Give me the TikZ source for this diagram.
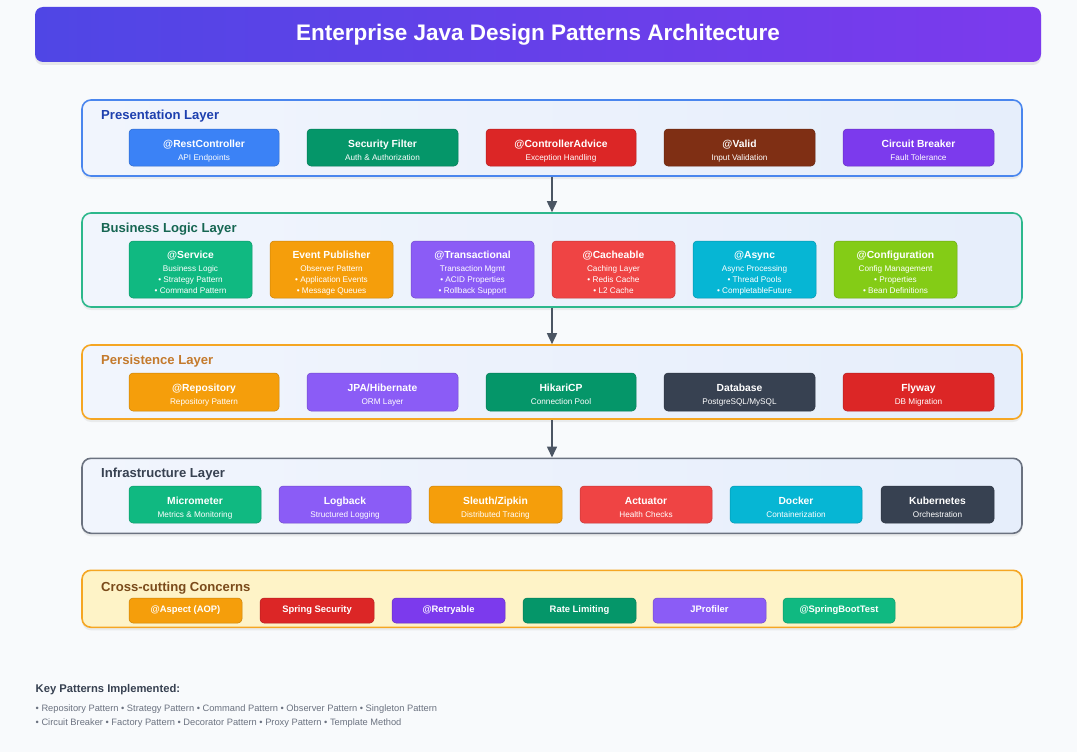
\documentclass[tikz,border=0pt]{standalone}
\usepackage{fontspec}
\setmainfont{Liberation Sans}
\usetikzlibrary{shadows,arrows.meta}
\definecolor{bg}{HTML}{F8FAFC}
\definecolor{tL}{HTML}{4F46E5}
\definecolor{tR}{HTML}{7C3AED}
\definecolor{layL}{HTML}{F1F5FD}
\definecolor{layR}{HTML}{E6EEFB}
\definecolor{cBlue}{HTML}{3B82F6}
\definecolor{cGreen}{HTML}{059669}
\definecolor{cRed}{HTML}{DC2626}
\definecolor{cBrown}{HTML}{7F2F14}
\definecolor{cPurple}{HTML}{7C3AED}
\definecolor{cEmerald}{HTML}{10B981}
\definecolor{cAmber}{HTML}{F59E0B}
\definecolor{cViolet}{HTML}{8B5CF6}
\definecolor{cRedL}{HTML}{EF4444}
\definecolor{cCyan}{HTML}{06B6D4}
\definecolor{cLime}{HTML}{84CC16}
\definecolor{cSlate}{HTML}{374151}
\definecolor{bPres}{HTML}{4A86EE}
\definecolor{bBus}{HTML}{2DB88C}
\definecolor{bPers}{HTML}{F5A623}
\definecolor{bInf}{HTML}{6B7280}
\definecolor{crossFill}{HTML}{FEF3C7}
\definecolor{lPres}{HTML}{1E40AF}
\definecolor{lBus}{HTML}{166652}
\definecolor{lPers}{HTML}{C47A2C}
\definecolor{lInf}{HTML}{374151}
\definecolor{lCross}{HTML}{7A4A1A}
\definecolor{arrowC}{HTML}{4B5563}
\definecolor{keyHead}{HTML}{374151}
\definecolor{keyText}{HTML}{6B7280}
\tikzset{
  layerbox/.style={rounded corners=9pt, line width=1.6pt, draw=#1, left color=layL, right color=layR,
    minimum width=940pt, inner sep=0pt,
    drop shadow={opacity=0.12,shadow xshift=0pt,shadow yshift=-3pt}},
  crossbox/.style={rounded corners=9pt, line width=1.6pt, draw=#1, fill=crossFill,
    minimum width=940pt, inner sep=0pt,
    drop shadow={opacity=0.12,shadow xshift=0pt,shadow yshift=-3pt}},
  layerlabel/.style={anchor=base west, inner sep=0pt, text=#1, font=\fontsize{13.1}{15}\selectfont\bfseries},
  comp/.style={rounded corners=4pt, fill=#1, draw=#1!82!black, line width=0.5pt, inner sep=0pt},
  ttl/.style={anchor=base, inner sep=0pt, text=white, font=\fontsize{10.3}{12}\selectfont\bfseries},
  sbt/.style={anchor=base, inner sep=0pt, text=white, font=\fontsize{8.2}{10}\selectfont},
  onetxt/.style={anchor=base, inner sep=0pt, text=white, font=\fontsize{9.4}{11}\selectfont\bfseries},
  flow/.style={line width=1.6pt, draw=arrowC, -{Triangle[length=11pt,width=10pt]}},
}
% box: name color x1 x2 y1 y2
\newcommand\cbox[6]{\node[comp=#2, minimum width={#4-#3}, minimum height={#6-#5}] (#1) at ({(#3+#4)/2},{(#5+#6)/2}) {};}
% two-line component
\newcommand\twoc[8]{\cbox{#1}{#2}{#3}{#4}{#5}{#6}
  \node[ttl] (#1-t) at ([yshift=-19pt]#1.north) {#7};
  \node[sbt] (#1-s) at ([yshift=-32pt]#1.north) {#8};}
% four-line component: name color x1 title l2 l3 l4
\newcommand\fourc[7]{\cbox{#1}{#2}{#3}{#3+123}{241}{298}
  \node[ttl] (#1-t) at ([yshift=-18pt]#1.north) {#4};
  \node[sbt] (#1-a) at ([yshift=-31pt]#1.north) {#5};
  \node[sbt] (#1-b) at ([yshift=-41.8pt]#1.north) {#6};
  \node[sbt] (#1-c) at ([yshift=-52.3pt]#1.north) {#7};}
% one-line component: name color x1 x2 text
\newcommand\onec[5]{\cbox{#1}{#2}{#3}{#4}{598}{623}
  \node[onetxt] (#1-t) at ([yshift=-14.5pt]#1.north) {#5};}
\begin{document}
\begin{tikzpicture}[x=1pt,y=-1pt]
\useasboundingbox[fill=bg] (0,0) rectangle (1077,752);

% title
\node[rounded corners=8pt, left color=tL, right color=tR, minimum width=1006pt, minimum height=55pt,
  text=white, font=\fontsize{22.5}{26}\selectfont\bfseries,
  drop shadow={opacity=0.15,shadow xshift=0pt,shadow yshift=-3pt}] (title) at (538,34.5)
  {Enterprise Java Design Patterns Architecture};

% layers
\node[layerbox=bPres, minimum height=76pt] (pres) at (552,138) {};
\node[layerbox=bBus, minimum height=94pt] (bus) at (552,260) {};
\node[layerbox=bPers, minimum height=74pt] (pers) at (552,382) {};
\node[layerbox=bInf, minimum height=75pt] (inf) at (552,495.8) {};
\node[crossbox=bPers, minimum height=57pt] (cross) at (552,598.8) {};

\node[layerlabel=lPres] (presL) at (101,120) {Presentation Layer};
\node[layerlabel=lBus] (busL) at (101,232) {Business Logic Layer};
\node[layerlabel=lPers] (persL) at (101,364) {Persistence Layer};
\node[layerlabel=lInf] (infL) at (101,477) {Infrastructure Layer};
\node[layerlabel=lCross] (crossL) at (101,591) {Cross-cutting Concerns};

% arrows
\draw[flow] (pres.south) -- (bus.north);
\draw[flow] (bus.south) -- (pers.north);
\draw[flow] (pers.south) -- (inf.north);

% presentation
\twoc{rest}{cBlue}{129}{279}{129}{166}{@RestController}{API Endpoints}
\twoc{sec}{cGreen}{307}{458}{129}{166}{Security Filter}{Auth \& Authorization}
\twoc{adv}{cRed}{486}{636}{129}{166}{@ControllerAdvice}{Exception Handling}
\twoc{valid}{cBrown}{664}{815}{129}{166}{@Valid}{Input Validation}
\twoc{cb}{cPurple}{843}{994}{129}{166}{Circuit Breaker}{Fault Tolerance}

% business
\fourc{serv}{cEmerald}{129}{@Service}{Business Logic}{• Strategy Pattern}{• Command Pattern}
\fourc{evt}{cAmber}{270}{Event Publisher}{Observer Pattern}{• Application Events}{• Message Queues}
\fourc{trx}{cViolet}{411}{@Transactional}{Transaction Mgmt}{• ACID Properties}{• Rollback Support}
\fourc{cache}{cRedL}{552}{@Cacheable}{Caching Layer}{• Redis Cache}{• L2 Cache}
\fourc{async}{cCyan}{693}{@Async}{Async Processing}{• Thread Pools}{• CompletableFuture}
\fourc{conf}{cLime}{834}{@Configuration}{Config Management}{• Properties}{• Bean Definitions}

% persistence
\twoc{repo}{cAmber}{129}{279}{373}{411}{@Repository}{Repository Pattern}
\twoc{jpa}{cViolet}{307}{458}{373}{411}{JPA/Hibernate}{ORM Layer}
\twoc{hik}{cGreen}{486}{636}{373}{411}{HikariCP}{Connection Pool}
\twoc{db}{cSlate}{664}{815}{373}{411}{Database}{PostgreSQL/MySQL}
\twoc{fly}{cRed}{843}{994}{373}{411}{Flyway}{DB Migration}

% infrastructure
\twoc{micro}{cEmerald}{129}{261}{486}{523}{Micrometer}{Metrics \& Monitoring}
\twoc{logb}{cViolet}{279}{411}{486}{523}{Logback}{Structured Logging}
\twoc{sleuth}{cAmber}{429}{562}{486}{523}{Sleuth/Zipkin}{Distributed Tracing}
\twoc{act}{cRedL}{580}{712}{486}{523}{Actuator}{Health Checks}
\twoc{dock}{cCyan}{730}{862}{486}{523}{Docker}{Containerization}
\twoc{k8s}{cSlate}{881}{994}{486}{523}{Kubernetes}{Orchestration}

% cross-cutting
\onec{aspect}{cAmber}{129}{242}{@Aspect (AOP)}
\onec{ssec}{cRed}{260}{374}{Spring Security}
\onec{retry}{cPurple}{392}{505}{@Retryable}
\onec{rate}{cGreen}{523}{636}{Rate Limiting}
\onec{jprof}{cViolet}{653}{766}{JProfiler}
\onec{sbtest}{cEmerald}{783}{895}{@SpringBootTest}

% key patterns
\node[anchor=base west, inner sep=0pt, text=keyHead, font=\fontsize{11.2}{13}\selectfont\bfseries] (keyH) at (35.5,692.7) {Key Patterns Implemented:};
\node[anchor=base west, inner sep=0pt, text=keyText, font=\fontsize{9.3}{11}\selectfont] (key1) at (35.5,711.7)
  {• Repository Pattern • Strategy Pattern • Command Pattern • Observer Pattern • Singleton Pattern};
\node[anchor=base west, inner sep=0pt, text=keyText, font=\fontsize{9.3}{11}\selectfont] (key2) at (35.5,725)
  {• Circuit Breaker • Factory Pattern • Decorator Pattern • Proxy Pattern • Template Method};
\end{tikzpicture}
\end{document}
